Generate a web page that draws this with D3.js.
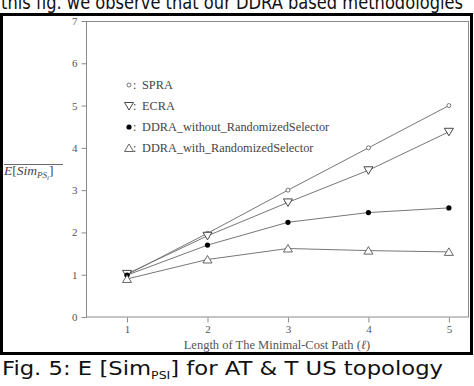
<!DOCTYPE html>
<html>
<head>
<meta charset="utf-8">
<script src="https://cdn.jsdelivr.net/npm/d3@7"></script>
<style>
  body { margin: 0; background: #fff; }
  svg { display: block; }
</style>
</head>
<body>
<div id="chart"></div>
<script>
// data
var pathLength = [1, 2, 3, 4, 5];
var spra = [1.0, 1.98, 3.0, 4.0, 5.0];
var ecra = [1.02, 1.92, 2.71, 3.47, 4.38];
var ddraWithout = [0.99, 1.70, 2.24, 2.47, 2.58];
var ddraWith = [0.9, 1.36, 1.62, 1.57, 1.54];
var yTicks = [0, 1, 2, 3, 4, 5, 6, 7];
var legendLabels = ["SPRA", "ECRA", "DDRA_without_RandomizedSelector", "DDRA_with_RandomizedSelector"];

var W = 474, H = 386;
var serif = "'Liberation Serif', 'DejaVu Serif', serif";
var sans = "'DejaVu Sans', 'Open Sans', sans-serif";

var svg = d3.select("#chart")
  .append("svg")
    .attr("width", W)
    .attr("height", H);

// text of the page above the figure, cut off at the top
svg.append("text")
  .attr("x", 1)
  .attr("y", 9)
  .attr("textLength", 462)
  .attr("lengthAdjust", "spacingAndGlyphs")
  .style("font-family", sans)
  .style("font-size", "19px")
  .style("fill", "#111")
  .text("this fig. we observe that our DDRA based methodologies");

// black frame of the figure
svg.append("rect")
  .attr("x", 1.5)
  .attr("y", 14.5)
  .attr("width", 470)
  .attr("height", 339)
  .attr("fill", "#fff")
  .attr("stroke", "#000")
  .attr("stroke-width", 3);

// scales
var x = d3.scaleLinear()
  .domain([0.49, 5.25])
  .range([86, 469]);
var y = d3.scaleLinear()
  .domain([0, 7])
  .range([317, 21]);

var g = svg.append("g");

// plot box
g.append("rect")
  .attr("x", 86.5)
  .attr("y", 21.5)
  .attr("width", 382)
  .attr("height", 295.5)
  .attr("fill", "none")
  .attr("stroke", "#8a8a8a")
  .attr("stroke-width", 1);

// X axis
var xAxis = g.append("g")
  .attr("transform", "translate(0," + 317.5 + ")")
  .call(d3.axisBottom(x).tickValues(pathLength).tickSize(5).tickPadding(3).tickFormat(d3.format("d")));

// Y axis
var yAxis = g.append("g")
  .attr("transform", "translate(" + 86.5 + ",0)")
  .call(d3.axisLeft(y).tickValues(yTicks).tickSize(5).tickPadding(4).tickFormat(d3.format("d")));

[xAxis, yAxis].forEach(function(a) {
  a.select(".domain").remove();
  a.selectAll("line").attr("stroke", "#8a8a8a");
  a.selectAll("text")
    .style("font-family", serif)
    .style("font-size", "11px")
    .style("fill", "#555");
});

// axis titles
g.append("text")
  .attr("x", 277)
  .attr("y", 349)
  .attr("text-anchor", "middle")
  .style("font-family", serif)
  .style("font-size", "12.5px")
  .style("fill", "#555")
  .html("Length of The Minimal-Cost Path (<tspan font-style='italic'>ℓ</tspan>)");

var yl = g.append("text")
  .attr("x", 4)
  .attr("y", 175)
  .style("font-family", serif)
  .style("font-size", "13.5px")
  .style("font-style", "italic")
  .style("fill", "#444");
yl.append("tspan").text("E");
yl.append("tspan").style("font-style", "normal").text("[");
yl.append("tspan").text("Sim");
yl.append("tspan").attr("dy", 3).style("font-size", "9px").text("PS");
yl.append("tspan").attr("dy", 2).style("font-size", "7px").text("i");
yl.append("tspan").attr("dy", -5).style("font-style", "normal").text("]");
g.append("line")
  .attr("x1", 4).attr("x2", 63)
  .attr("y1", 164.5).attr("y2", 164.5)
  .attr("stroke", "#444")
  .attr("stroke-width", 0.8);

// series
var series = [spra, ecra, ddraWithout, ddraWith];
var line = d3.line()
  .x(function(d, i) { return x(pathLength[i]); })
  .y(function(d) { return y(d); });

series.forEach(function(s) {
  g.append("path")
    .datum(s)
    .attr("d", line)
    .attr("fill", "none")
    .attr("stroke", "#777")
    .attr("stroke-width", 1);
});

function marker(sel, type, cx, cy) {
  if (type === 0) {
    sel.append("circle").attr("cx", cx).attr("cy", cy).attr("r", 2)
      .attr("fill", "#fff").attr("stroke", "#555").attr("stroke-width", 0.8);
  } else if (type === 1) {
    sel.append("path")
      .attr("d", "M" + (cx - 4.5) + "," + (cy - 3.5) + "L" + (cx + 4.5) + "," + (cy - 3.5) + "L" + cx + "," + (cy + 4) + "Z")
      .attr("fill", "#fff").attr("stroke", "#333").attr("stroke-width", 0.9);
  } else if (type === 2) {
    sel.append("circle").attr("cx", cx).attr("cy", cy).attr("r", 2.6)
      .attr("fill", "#000");
  } else {
    sel.append("path")
      .attr("d", "M" + (cx - 4.5) + "," + (cy + 3.5) + "L" + (cx + 4.5) + "," + (cy + 3.5) + "L" + cx + "," + (cy - 4) + "Z")
      .attr("fill", "#fff").attr("stroke", "#555").attr("stroke-width", 0.9);
  }
}

series.forEach(function(s, k) {
  s.forEach(function(v, i) {
    marker(g, k, x(pathLength[i]), y(v));
  });
});

// legend
legendLabels.forEach(function(lbl, k) {
  var ly = 85 + k * 21;
  marker(g, k, 129, ly);
  g.append("text")
    .attr("x", 133)
    .attr("y", ly + 4)
    .style("font-family", serif)
    .style("font-size", "12px")
    .style("fill", "#444")
    .text(":");
  g.append("text")
    .attr("x", 142)
    .attr("y", ly + 4)
    .style("font-family", serif)
    .style("font-size", "12.3px")
    .style("fill", "#444")
    .text(lbl);
});

// caption
var cap = svg.append("text")
  .attr("x", 2)
  .attr("y", 375)
  .attr("textLength", 441)
  .attr("lengthAdjust", "spacingAndGlyphs")
  .style("font-family", sans)
  .style("font-size", "20px")
  .style("fill", "#111");
cap.append("tspan").text("Fig. 5: E [Sim");
cap.append("tspan").attr("dy", 4).style("font-size", "11px").text("PSI");
cap.append("tspan").attr("dy", -4).text("] for AT & T US topology");
</script>
</body>
</html>
